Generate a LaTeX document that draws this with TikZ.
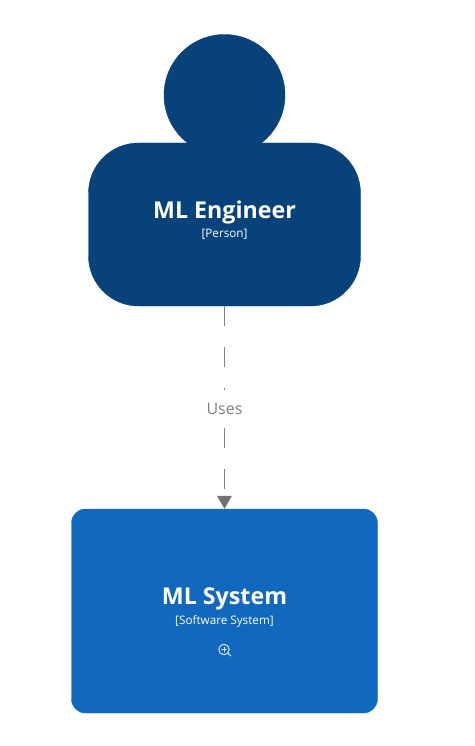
\documentclass[tikz,border=0pt]{standalone}
\usepackage{fontspec}
\setmainfont{Open Sans}
\usetikzlibrary{arrows.meta}
\definecolor{persondark}{HTML}{08427B}
\definecolor{persondraw}{HTML}{073D72}
\definecolor{sysblue}{HTML}{1168BD}
\definecolor{linegray}{HTML}{808080}
\definecolor{arrowgray}{HTML}{707070}
\definecolor{icontint}{HTML}{D6E6F5}
\tikzset{
  x=1pt,y=-1pt,
  body/.style={draw=persondark,fill=persondark,rounded corners=50pt,minimum width=272pt,minimum height=163pt,inner sep=0pt},
  head/.style={circle,draw=persondraw,line width=.4pt,fill=persondark,minimum size=121pt,inner sep=0pt},
  sysbox/.style={draw=sysblue,fill=sysblue,rounded corners=14pt,minimum width=306pt,minimum height=204pt,inner sep=0pt},
  titletext/.style={text=white,font=\fontsize{23.2}{27}\selectfont\bfseries,inner sep=0pt},
  subtext/.style={text=white,font=\fontsize{11.7}{14}\selectfont,inner sep=0pt},
  conn/.style={draw=linegray,line width=1.5pt,dash pattern=on 20pt off 20.7pt,-{Triangle[length=13pt,width=15pt,fill=arrowgray,color=arrowgray,line width=0pt]}},
  conntext/.style={text=linegray,fill=white,font=\fontsize{16}{19}\selectfont,inner xsep=2pt,minimum height=38pt,inner ysep=0pt},
  seam/.style={draw=persondraw,line width=.4pt},
  icon/.style={draw=icontint,line width=1pt,line cap=round}
}
\begin{document}
\begin{tikzpicture}
\useasboundingbox (0,0) rectangle (474,746);
\node[body] (eng) at (224.5,224.5) {};
\node[head] (hd) at (224.5,95) {};
\coordinate (sl1) at (143,215); \coordinate (sl2) at (143,305.5);
\coordinate (sr1) at (306,215); \coordinate (sr2) at (306,305.5);
\draw[seam] (sl1) -- (sl2);
\draw[seam] (sr1) -- (sr2);
\node[titletext] (engt) at (224.5,212) {ML Engineer};
\node[subtext] (engs) at (224.5,234.5) {[Person]};
\node[sysbox] (sys) at (224.5,611) {};
\node[titletext] (syst) at (224.5,599) {ML System};
\node[subtext] (syss) at (224.5,621) {[Software System]};
\draw[conn] (eng.south) -- (sys.north);
\node[conntext] (uses) at (224.5,408.5) {Uses};
\node[circle,icon,minimum size=10.5pt,inner sep=0pt] (lens) at (224,649.5) {};
\coordinate (hnd) at (231,656);
\draw[icon] (lens) ++(3.8,3.8) -- (hnd);
\draw[icon,line width=.7pt] (221.5,649.5) -- (226.5,649.5) (224,647) -- (224,652);
\end{tikzpicture}
\end{document}
